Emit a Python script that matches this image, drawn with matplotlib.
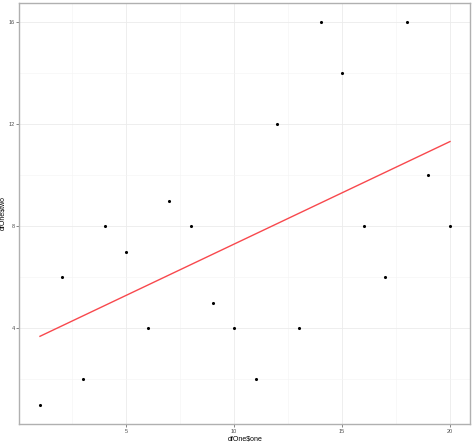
import matplotlib
matplotlib.use("Agg")
import matplotlib.pyplot as plt
import numpy as np

# data
x_vals = list(range(1, 21))
y_vals = [1, 6, 2, 8, 7, 4, 9, 8, 5, 4, 2, 12, 4, 16, 14, 8, 6, 16, 10, 8]
x_ticks = [5, 10, 15, 20]
y_ticks = [4, 8, 12, 16]

plt.rcParams["font.family"] = ["Liberation Sans", "DejaVu Sans"]

fig = plt.figure(figsize=(4.74, 4.43), dpi=100)
fig.set_facecolor("white")
ax = fig.add_axes([0.0411, 0.0429, 0.9515, 0.9508])

x = np.array(x_vals, dtype=float)
y = np.array(y_vals, dtype=float)

# least squares fit, like geom_smooth(method="lm", se=FALSE)
slope, intercept = np.polyfit(x, y, 1)
xs = np.array([x.min(), x.max()])
ax.plot(xs, slope * xs + intercept, color="#F8484D", lw=1.0, zorder=3)
ax.scatter(x, y, s=5, color="black", zorder=4, linewidths=0)

pad_x = 0.05 * (x.max() - x.min())
pad_y = 0.05 * (y.max() - y.min())
ax.set_xlim(x.min() - pad_x, x.max() + pad_x)
ax.set_ylim(y.min() - pad_y, y.max() + pad_y)

ax.set_xticks(x_ticks)
ax.set_yticks(y_ticks)
ax.set_xticks([2.5, 7.5, 12.5, 17.5], minor=True)
ax.set_yticks([2, 6, 10, 14], minor=True)
ax.grid(True, which="major", color="#EBEBEB", lw=0.6)
ax.grid(True, which="minor", color="#F4F4F4", lw=0.4)
ax.set_axisbelow(True)

for s in ax.spines.values():
    s.set_color("#B0B0B0")
    s.set_linewidth(1.0)

ax.tick_params(which="major", length=2, width=0.5, color="#555555",
               labelsize=4, labelcolor="#4D4D4D", pad=1.5)
ax.tick_params(which="minor", length=0)

ax.set_xlabel("dfOne\\$one", fontsize=5, labelpad=1.5)
ax.set_ylabel("dfOne\\$two", fontsize=5, labelpad=1.5)

fig.savefig("out.png", dpi=100, facecolor="white")
